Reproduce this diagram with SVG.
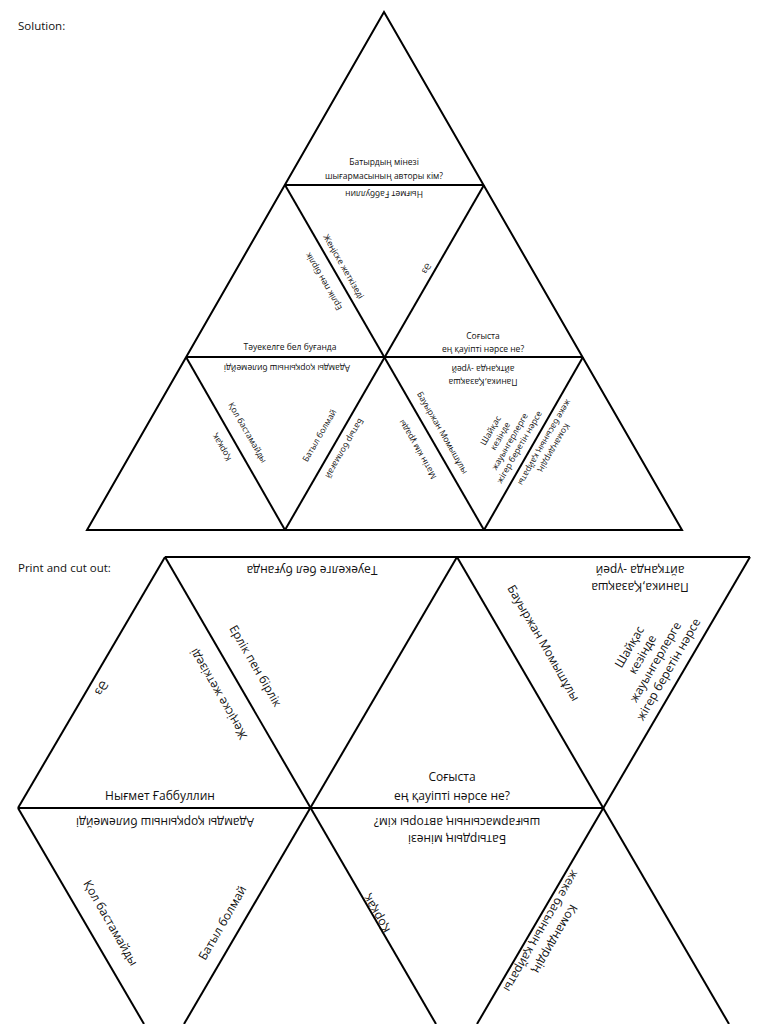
<svg xmlns="http://www.w3.org/2000/svg" width="768" height="1024" viewBox="0 0 768 1024">
<style>
text{font-family:"Open Sans","DejaVu Sans",sans-serif;fill:#111;text-anchor:middle}
.s{font-size:8.5px}
.b{font-size:12px}
.h{font-size:11.5px;text-anchor:start}
line,polygon{stroke:#000;stroke-width:2;fill:none}
</style>
<rect width="768" height="1024" fill="#fff"/>
<text class="h" x="18" y="30">Solution:</text>
<text class="h" x="18" y="572">Print and cut out:</text>
<g id="connectors">
<polygon points="384,12 682,530 87,530"/>
<line x1="285" y1="185" x2="484" y2="185"/>
<line x1="186" y1="357" x2="583" y2="357"/>
<line x1="285" y1="185" x2="484" y2="530"/>
<line x1="186" y1="357" x2="285" y2="530"/>
<line x1="484" y1="185" x2="285" y2="530"/>
<line x1="583" y1="357" x2="484" y2="530"/>
<line x1="165" y1="557" x2="750" y2="557"/>
<line x1="18" y1="808" x2="603" y2="808"/>
<line x1="165" y1="557" x2="18" y2="808"/>
<line x1="18" y1="808" x2="144" y2="1024"/>
<line x1="165" y1="557" x2="436" y2="1024"/>
<line x1="457" y1="557" x2="184" y2="1024"/>
<line x1="457" y1="557" x2="729" y2="1024"/>
<line x1="750" y1="557" x2="477" y2="1024"/>
</g>
<g id="solution">
<text class="s" x="384" y="165">Батырдың мінезі</text>
<text class="s" x="384" y="179">шығармасының авторы кім?</text>
<text class="s" transform="translate(384,191) rotate(180)">Нығмет Ғаббуллин</text>
<text class="s" transform="translate(341,268) rotate(60)">Жеңіске жеткізеді</text>
<text class="s" transform="translate(326,280) rotate(-120)">Ерлік пен бірлік</text>
<text class="s" transform="translate(424,267) rotate(120)">Әз</text>
<text class="s" x="290" y="350">Тәуекелге бел буғанда</text>
<text class="s" transform="translate(287,365) rotate(180)">Адамды қорқыныш билемейді</text>
<text class="s" x="483" y="339">Соғыста</text>
<text class="s" x="483" y="352">ең қауіпті нәрсе не?</text>
<text class="s" transform="translate(483,366) rotate(180)">айтқанда -үрей</text>
<text class="s" transform="translate(483,379) rotate(180)">Паника,Қазақша</text>
<text class="s" transform="translate(245,434) rotate(60)">Қол бастамайды</text>
<text class="s" transform="translate(224,446) rotate(-120)">Қорқақ</text>
<text class="s" transform="translate(322,437) rotate(-60)">Батыл болмай</text>
<text class="s" transform="translate(342,447) rotate(120)">Батыр болмағай</text>
<text class="s" transform="translate(440,434) rotate(60)">Бауыржан Момышұлы</text>
<text class="s" transform="translate(420,448) rotate(-120)">Мәтін кім ұрады</text>
<g transform="translate(507,440) rotate(-60)">
<text class="s" y="-16">Шайқас</text><text class="s" y="-5">кезінде</text><text class="s" y="6">жауынгерлерге</text><text class="s" y="17">жігер беретін нәрсе</text></g>
<g transform="translate(549,445) rotate(120)">
<text class="s" y="-3">Командирдің</text><text class="s" y="8">жеке басының қайраты</text></g>
</g>
<g id="cards">
<text class="b" x="160" y="800">Нығмет Ғаббуллин</text>
<text class="b" transform="translate(98,686) rotate(120)">Әз</text>
<text class="b" transform="translate(222,692) rotate(-120)">Жеңіске жеткізеді</text>
<text class="b" transform="translate(252,668) rotate(60)">Ерлік пен бірлік</text>
<text class="b" transform="translate(312,566) rotate(180)">Тәуекелге бел буғанда</text>
<text class="b" x="452" y="781">Соғыста</text>
<text class="b" x="452" y="800">ең қауіпті нәрсе не?</text>
<text class="b" transform="translate(540,645) rotate(60)">Бауыржан Момышұлы</text>
<text class="b" transform="translate(640,566) rotate(180)">айтқанда -үрей</text>
<text class="b" transform="translate(640,583) rotate(180)">Паника,Қазақша</text>
<g transform="translate(652,660) rotate(-60)">
<text class="b" y="-22">Шайқас</text><text class="b" y="-7">кезінде</text><text class="b" y="8">жауынгерлерге</text><text class="b" y="23">жігер беретін нәрсе</text></g>
<text class="b" transform="translate(165,818) rotate(180)">Адамды қорқыныш билемейді</text>
<text class="b" transform="translate(457,818) rotate(180)">шығармасының авторы кім?</text>
<text class="b" transform="translate(457,835) rotate(180)">Батырдың мінезі</text>
<text class="b" transform="translate(107,925) rotate(60)">Қол бастамайды</text>
<text class="b" transform="translate(226,925) rotate(-60)">Батыл болмай</text>
<text class="b" transform="translate(380,912) rotate(-120)">Қорқақ</text>
<g transform="translate(548,935) rotate(120)">
<text class="b" y="-4">Командирдің</text><text class="b" y="12">жеке басының қайраты</text></g>
</g>
</svg>
